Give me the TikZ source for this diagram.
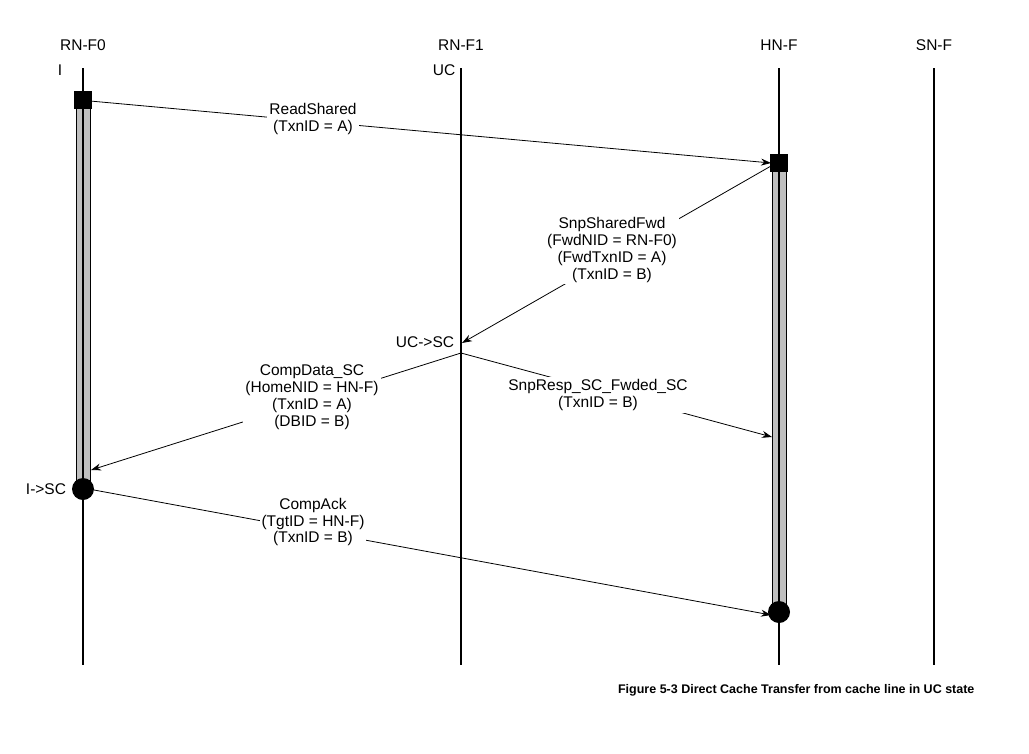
\documentclass[tikz,border=0pt]{standalone}
\usepackage{fontspec}
\setmainfont{Liberation Sans}
\usetikzlibrary{arrows.meta}
\begin{document}
\begin{tikzpicture}[x=1pt,y=-1pt,
 life/.style={line width=1.8pt},
 msg/.style={-{Stealth[length=10pt,width=7pt]},line width=0.8pt},
 lbl/.style={fill=white,align=center,font=\fontsize{15.5}{16.8}\selectfont,inner sep=2pt},
 hdr/.style={font=\fontsize{15.5}{17}\selectfont},
 bar/.style={fill=black!25,draw=black,line width=0.8pt}]
\useasboundingbox (0,0) rectangle (1029,753);
\foreach \n/\x/\t in {a/83/RN-F0,b/461/RN-F1,c/779/HN-F,d/934/SN-F}{
 \node[hdr] (h\n) at (\x,45) {\t};
 \coordinate (t\n) at (\x,68); \coordinate (e\n) at (\x,665);
 \draw[life] (t\n) -- (e\n);}
\node[hdr] (sa) at (60,70) {I};
\node[hdr] (sb) at (444,70) {UC};
\draw[bar] (76,100) rectangle (90,480);
\draw[bar] (772,163) rectangle (786,605);
\draw[life] (83,92) -- (83,490);
\draw[life] (779,155) -- (779,612);
\node[fill=black,minimum size=18pt,inner sep=0] (qa) at (83,100) {};
\node[fill=black,minimum size=18pt,inner sep=0] (qc) at (779,163) {};
\node[fill=black,circle,minimum size=22pt,inner sep=0] (ca) at (83,489) {};
\node[fill=black,circle,minimum size=22pt,inner sep=0] (cc) at (779,612) {};
\coordinate (p1) at (90,101); \coordinate (p2) at (771,163);
\coordinate (p3) at (771,166); \coordinate (p4) at (462,343);
\coordinate (p5) at (461,353); \coordinate (p6) at (91,470);
\coordinate (p7) at (772,437); \coordinate (p8) at (771,615);
\coordinate (p9) at (94,490);
\draw[msg] (p1) -- (p2);
\draw[msg] (p3) -- (p4);
\draw[msg] (p5) -- (p6);
\draw[msg] (p5) -- (p7);
\draw[msg] (p9) -- (p8);
\node[lbl] (l1) at (313,119) {ReadShared\\(TxnID = A)};
\node[lbl] (l2) at (612,250) {SnpSharedFwd\\(FwdNID = RN-F0)\\(FwdTxnID = A)\\(TxnID = B)};
\node[lbl] (l3) at (312,397) {CompData\_SC\\(HomeNID = HN-F)\\(TxnID = A)\\(DBID = B)};
\node[lbl] (l4) at (598,395) {SnpResp\_SC\_Fwded\_SC\\(TxnID = B)};
\node[lbl] (l5) at (313,522) {CompAck\\(TgtID = HN-F)\\(TxnID = B)};
\node[hdr,fill=white,inner sep=1pt] (s1) at (425,342) {UC->SC};
\node[hdr] (s2) at (46,489) {I->SC};
\node[font=\bfseries\fontsize{12.5}{15}\selectfont,anchor=east] (cap) at (978,690) {Figure 5-3 Direct Cache Transfer from cache line in UC state};
\end{tikzpicture}
\end{document}
